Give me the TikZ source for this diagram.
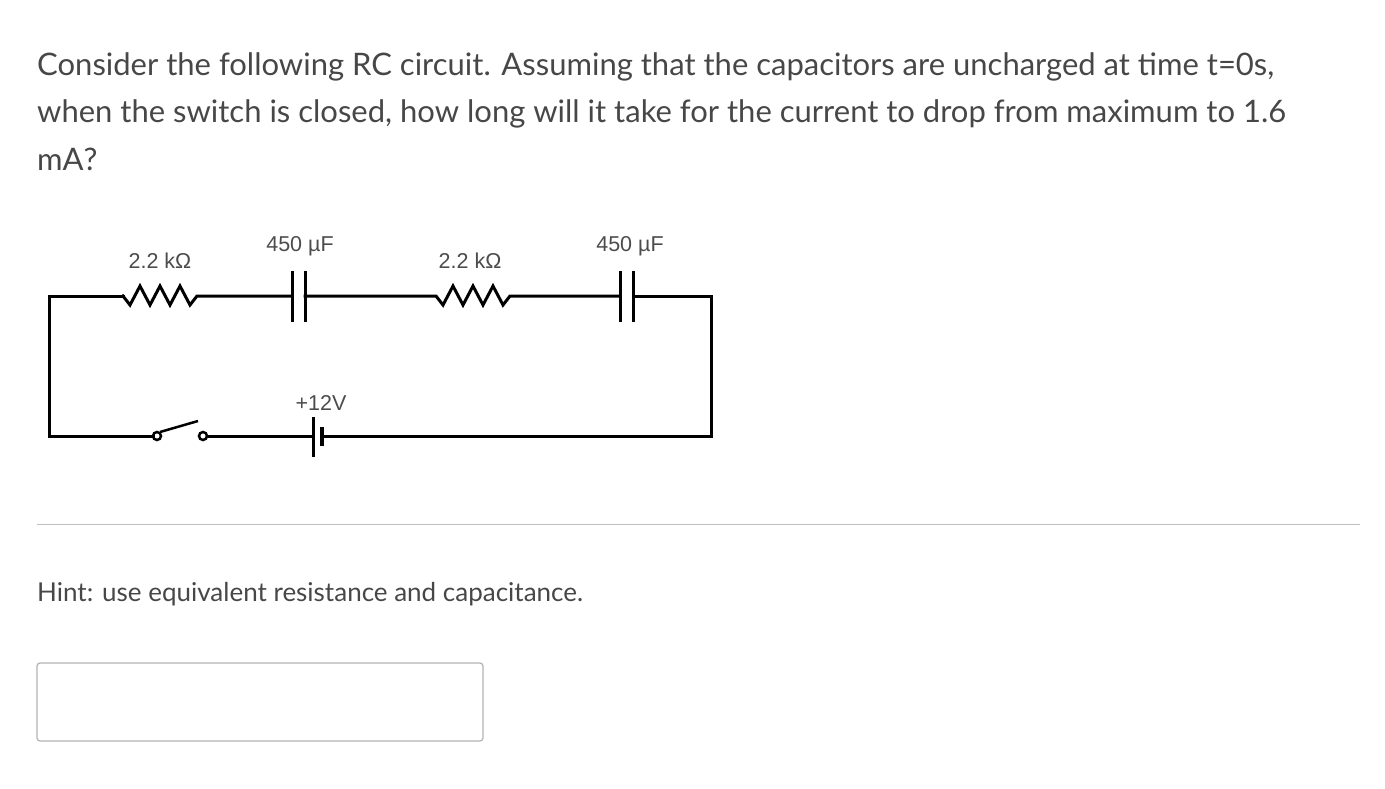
\documentclass[tikz,border=0pt]{standalone}
\usepackage{fontspec}
\setmainfont{Lato}
\newfontfamily\arial{Liberation Sans}
\begin{document}
\begin{tikzpicture}[x=1pt,y=-1pt,
  wire/.style={line width=3pt,line cap=rect},
  body/.style={font=\fontsize{31}{36}\selectfont,text=black!72,anchor=base west,inner sep=0},
  hint/.style={font=\fontsize{26}{30}\selectfont,text=black!72,anchor=base west,inner sep=0},
  lab/.style={font=\arial\fontsize{21.5}{22}\selectfont,text=black!70,inner sep=0}]
\useasboundingbox (0,0) rectangle (1385,788);
\node[body] (l1) at (37,75) {Consider the following RC circuit. Assuming that the capacitors are uncharged at time t=0s,};
\node[body] (l2) at (37,122) {when the switch is closed, how long will it take for the current to drop from maximum to 1.6};
\node[body] (l3) at (37,170) {mA?};
% circuit
\coordinate (tl) at (49,296); \coordinate (tr) at (711,296);
\coordinate (bl) at (49,436); \coordinate (br) at (711,436);
\draw[wire] (tl) -- (bl) -- (153,436);
\draw[wire] (123,296) -- (tl);
\draw[wire] (123,296) -- (130,305) -- (140,286) -- (150,305) -- (160,286) -- (170,305) -- (180,286) -- (190,305) -- (197,296) -- (292,296);
\draw[wire] (292,272) -- (292,320); \draw[wire] (305,272) -- (305,320);
\draw[wire] (305,296) -- (436,296) -- (443,305) -- (453,286) -- (463,305) -- (473,286) -- (483,305) -- (493,286) -- (503,305) -- (510,296) -- (620,296);
\draw[wire] (620,272) -- (620,320); \draw[wire] (633,272) -- (633,320);
\draw[wire] (633,296) -- (tr) -- (br) -- (322,436);
\draw[wire] (313,418) -- (313,455);
\draw[line width=4.5pt] (322,427) -- (322,446);
\draw[wire] (313,436) -- (208,436);
\draw[line width=2.5pt] (157,436) circle (4);
\draw[line width=2.5pt] (203,436) circle (4);
\draw[line width=2.5pt] (160,432) -- (198,421);
\node[lab] (r1) at (160,261) {2.2 kΩ};
\node[lab] (c1) at (300,246) {450 µF};
\node[lab] (r2) at (470,261) {2.2 kΩ};
\node[lab] (c2) at (630,246) {450 µF};
\node[lab] (v) at (321,403) {+12V};
\draw[black!25,line width=1pt] (37,524) -- (1360,524);
\node[hint] (h) at (37,601) {Hint: use equivalent resistance and capacitance.};
\draw[black!30,line width=1.2pt,rounded corners=3pt] (37,663) rectangle (483,741);
\end{tikzpicture}
\end{document}
